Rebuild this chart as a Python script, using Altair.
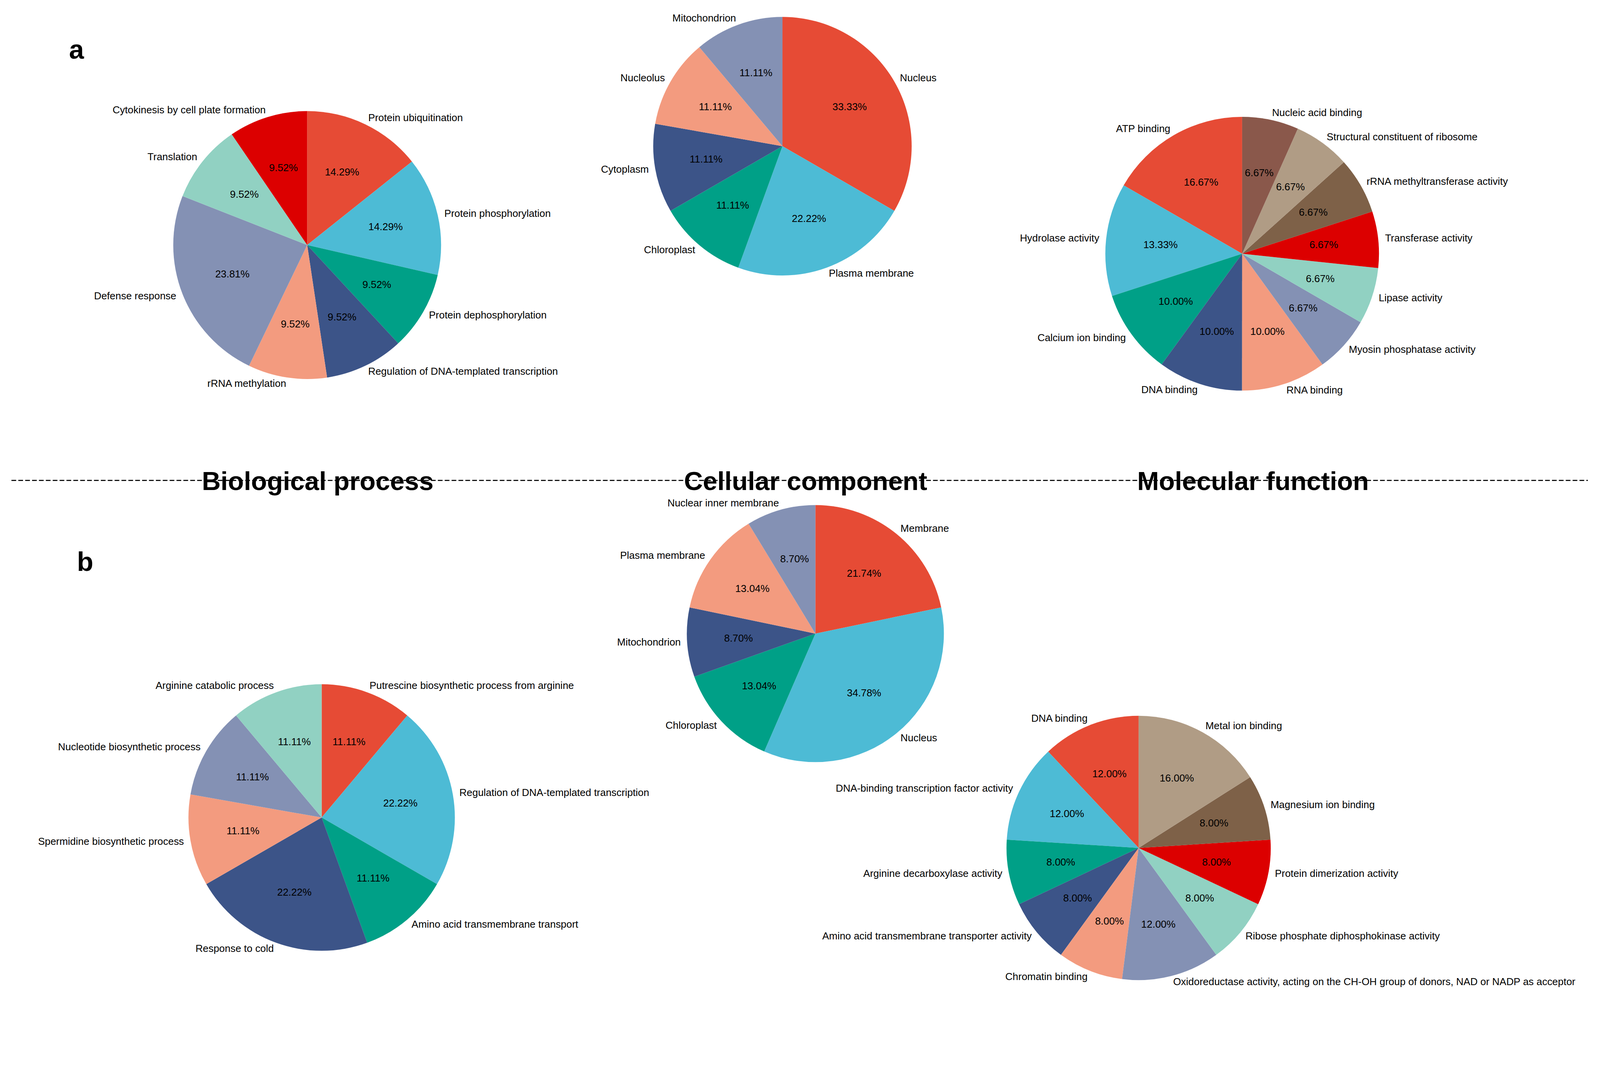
import altair as alt
import pandas as pd

# ---------------- data ----------------
bp_a_cats = ["Protein ubiquitination", "Protein phosphorylation", "Protein dephosphorylation",
             "Regulation of DNA-templated transcription", "rRNA methylation", "Defense response",
             "Translation", "Cytokinesis by cell plate formation"]
bp_a_pct = [14.29, 14.29, 9.52, 9.52, 9.52, 23.81, 9.52, 9.52]

cc_a_cats = ["Nucleus", "Plasma membrane", "Chloroplast", "Cytoplasm", "Nucleolus", "Mitochondrion"]
cc_a_pct = [33.33, 22.22, 11.11, 11.11, 11.11, 11.11]

mf_a_cats = ["ATP binding", "Hydrolase activity", "Calcium ion binding", "DNA binding", "RNA binding",
             "Myosin phosphatase activity", "Lipase activity", "Transferase activity",
             "rRNA methyltransferase activity", "Structural constituent of ribosome",
             "Nucleic acid binding"]
mf_a_pct = [16.67, 13.33, 10.00, 10.00, 10.00, 6.67, 6.67, 6.67, 6.67, 6.67, 6.67]

bp_b_cats = ["Putrescine biosynthetic process from arginine", "Regulation of DNA-templated transcription",
             "Amino acid transmembrane transport", "Response to cold", "Spermidine biosynthetic process",
             "Nucleotide biosynthetic process", "Arginine catabolic process"]
bp_b_pct = [11.11, 22.22, 11.11, 22.22, 11.11, 11.11, 11.11]

cc_b_cats = ["Membrane", "Nucleus", "Chloroplast", "Mitochondrion", "Plasma membrane",
             "Nuclear inner membrane"]
cc_b_pct = [21.74, 34.78, 13.04, 8.70, 13.04, 8.70]

mf_b_cats = ["DNA binding", "DNA-binding transcription factor activity", "Arginine decarboxylase activity",
             "Amino acid transmembrane transporter activity", "Chromatin binding",
             "Oxidoreductase activity, acting on the CH-OH group of donors, NAD or NADP as acceptor",
             "Ribose phosphate diphosphokinase activity", "Protein dimerization activity",
             "Magnesium ion binding", "Metal ion binding"]
mf_b_pct = [12.00, 12.00, 8.00, 8.00, 8.00, 12.00, 8.00, 8.00, 8.00, 16.00]

section_titles = ["Biological process", "Cellular component", "Molecular function"]
panel_tags = ["a", "b"]

# ---------------- styles / layout ----------------
PALETTE = ["#E64B35", "#4DBBD5", "#00A087", "#3C5488", "#F39B7F", "#8491B4",
           "#91D1C2", "#DC0000", "#7E6148", "#B09C85", "#8A584B"]
FONT = "Liberation Sans"
LABEL_SIZE = 28
LABEL_DIST = 1.05
PCT_DIST = 0.6
MX = 8          # page margin (horizontal)
MY = 8 + 103    # page margin + observed vertical offset
VIEW_W, VIEW_H = 4403, 2630

# (cats, values, center x, center y, radius, clockwise)  -- page pixel coordinates
PIES = [
    (bp_a_cats, bp_a_pct, 848, 675, 370, True),
    (cc_a_cats, cc_a_pct, 2161, 402, 357, True),
    (mf_a_cats, mf_a_pct, 3431, 699, 378, False),
    (bp_b_cats, bp_b_pct, 888, 2256, 368, True),
    (cc_b_cats, cc_b_pct, 2252, 1748, 355, True),
    (mf_b_cats, mf_b_pct, 3145, 2340, 365, False),
]
TITLE_X = [877, 2225, 3461]
TITLE_Y = 1351
DASH_Y = 1325
DASH_X0, DASH_X1 = 31, 4386
TAG_POS = [(190, 160), (212, 1575)]


def pie_layers(cats, vals, cx, cy, r, clockwise):
    df = pd.DataFrame({"cat": cats, "v": vals, "idx": list(range(len(cats))),
                       "col": PALETTE[:len(cats)]})
    base = (alt.Chart(df)
            .transform_joinaggregate(total="sum(v)")
            .transform_window(cum="sum(v)", sort=[alt.SortField("idx", order="ascending")],
                              frame=[None, 0]))
    if clockwise:
        base = base.transform_calculate(a0="2*PI*(datum.cum-datum.v)/datum.total",
                                        a1="2*PI*datum.cum/datum.total")
    else:
        base = base.transform_calculate(a0="2*PI*(1-datum.cum/datum.total)",
                                        a1="2*PI*(1-(datum.cum-datum.v)/datum.total)")
    base = base.transform_calculate(mid="(datum.a0+datum.a1)/2",
                                    pct="format(datum.v, '.2f') + '%'")
    pos = dict(x=alt.value(cx - MX), y=alt.value(cy - MY))
    arcs = base.mark_arc(radius=r).encode(
        theta=alt.Theta("a0:Q", scale=None), theta2="a1:Q",
        color=alt.Color("col:N", scale=None), **pos)
    pcts = base.mark_text(radius=PCT_DIST * r, fontSize=LABEL_SIZE, font=FONT, color="black",
                          align="center", baseline="middle").encode(
        theta=alt.Theta("mid:Q", scale=None), text="pct:N", **pos)
    right = base.transform_filter("sin(datum.mid) >= 0").mark_text(
        radius=LABEL_DIST * r, fontSize=LABEL_SIZE, font=FONT, color="black",
        align="left", baseline="middle").encode(
        theta=alt.Theta("mid:Q", scale=None), text="cat:N", **pos)
    left = base.transform_filter("sin(datum.mid) < 0").mark_text(
        radius=LABEL_DIST * r, fontSize=LABEL_SIZE, font=FONT, color="black",
        align="right", baseline="middle").encode(
        theta=alt.Theta("mid:Q", scale=None), text="cat:N", **pos)
    return [arcs, pcts, right, left]


layers = []
for p in PIES:
    layers += pie_layers(*p)

one = pd.DataFrame({"k": [0]})
dash = alt.Chart(one).mark_rule(color="black", strokeWidth=3, strokeDash=[13, 6]).encode(
    x=alt.value(DASH_X0 - MX), x2=alt.value(DASH_X1 - MX), y=alt.value(DASH_Y - MY))
layers.append(dash)

for t, tx in zip(section_titles, TITLE_X):
    layers.append(alt.Chart(pd.DataFrame({"t": [t]})).mark_text(
        font=FONT, fontSize=72, fontWeight="bold", color="black",
        align="center", baseline="alphabetic").encode(
        text="t:N", x=alt.value(tx - MX), y=alt.value(TITLE_Y - MY)))

for tag, (tx, ty) in zip(panel_tags, TAG_POS):
    layers.append(alt.Chart(pd.DataFrame({"t": [tag]})).mark_text(
        font=FONT, fontSize=74, fontWeight="bold", color="black",
        align="left", baseline="alphabetic").encode(
        text="t:N", x=alt.value(tx - MX), y=alt.value(ty - MY)))

chart = alt.layer(*layers).properties(
    width=VIEW_W, height=VIEW_H, padding=0, autosize="none", background="white"
).configure_view(stroke=None)

chart.save("out.html", embed_options={"renderer": "svg", "actions": False})
